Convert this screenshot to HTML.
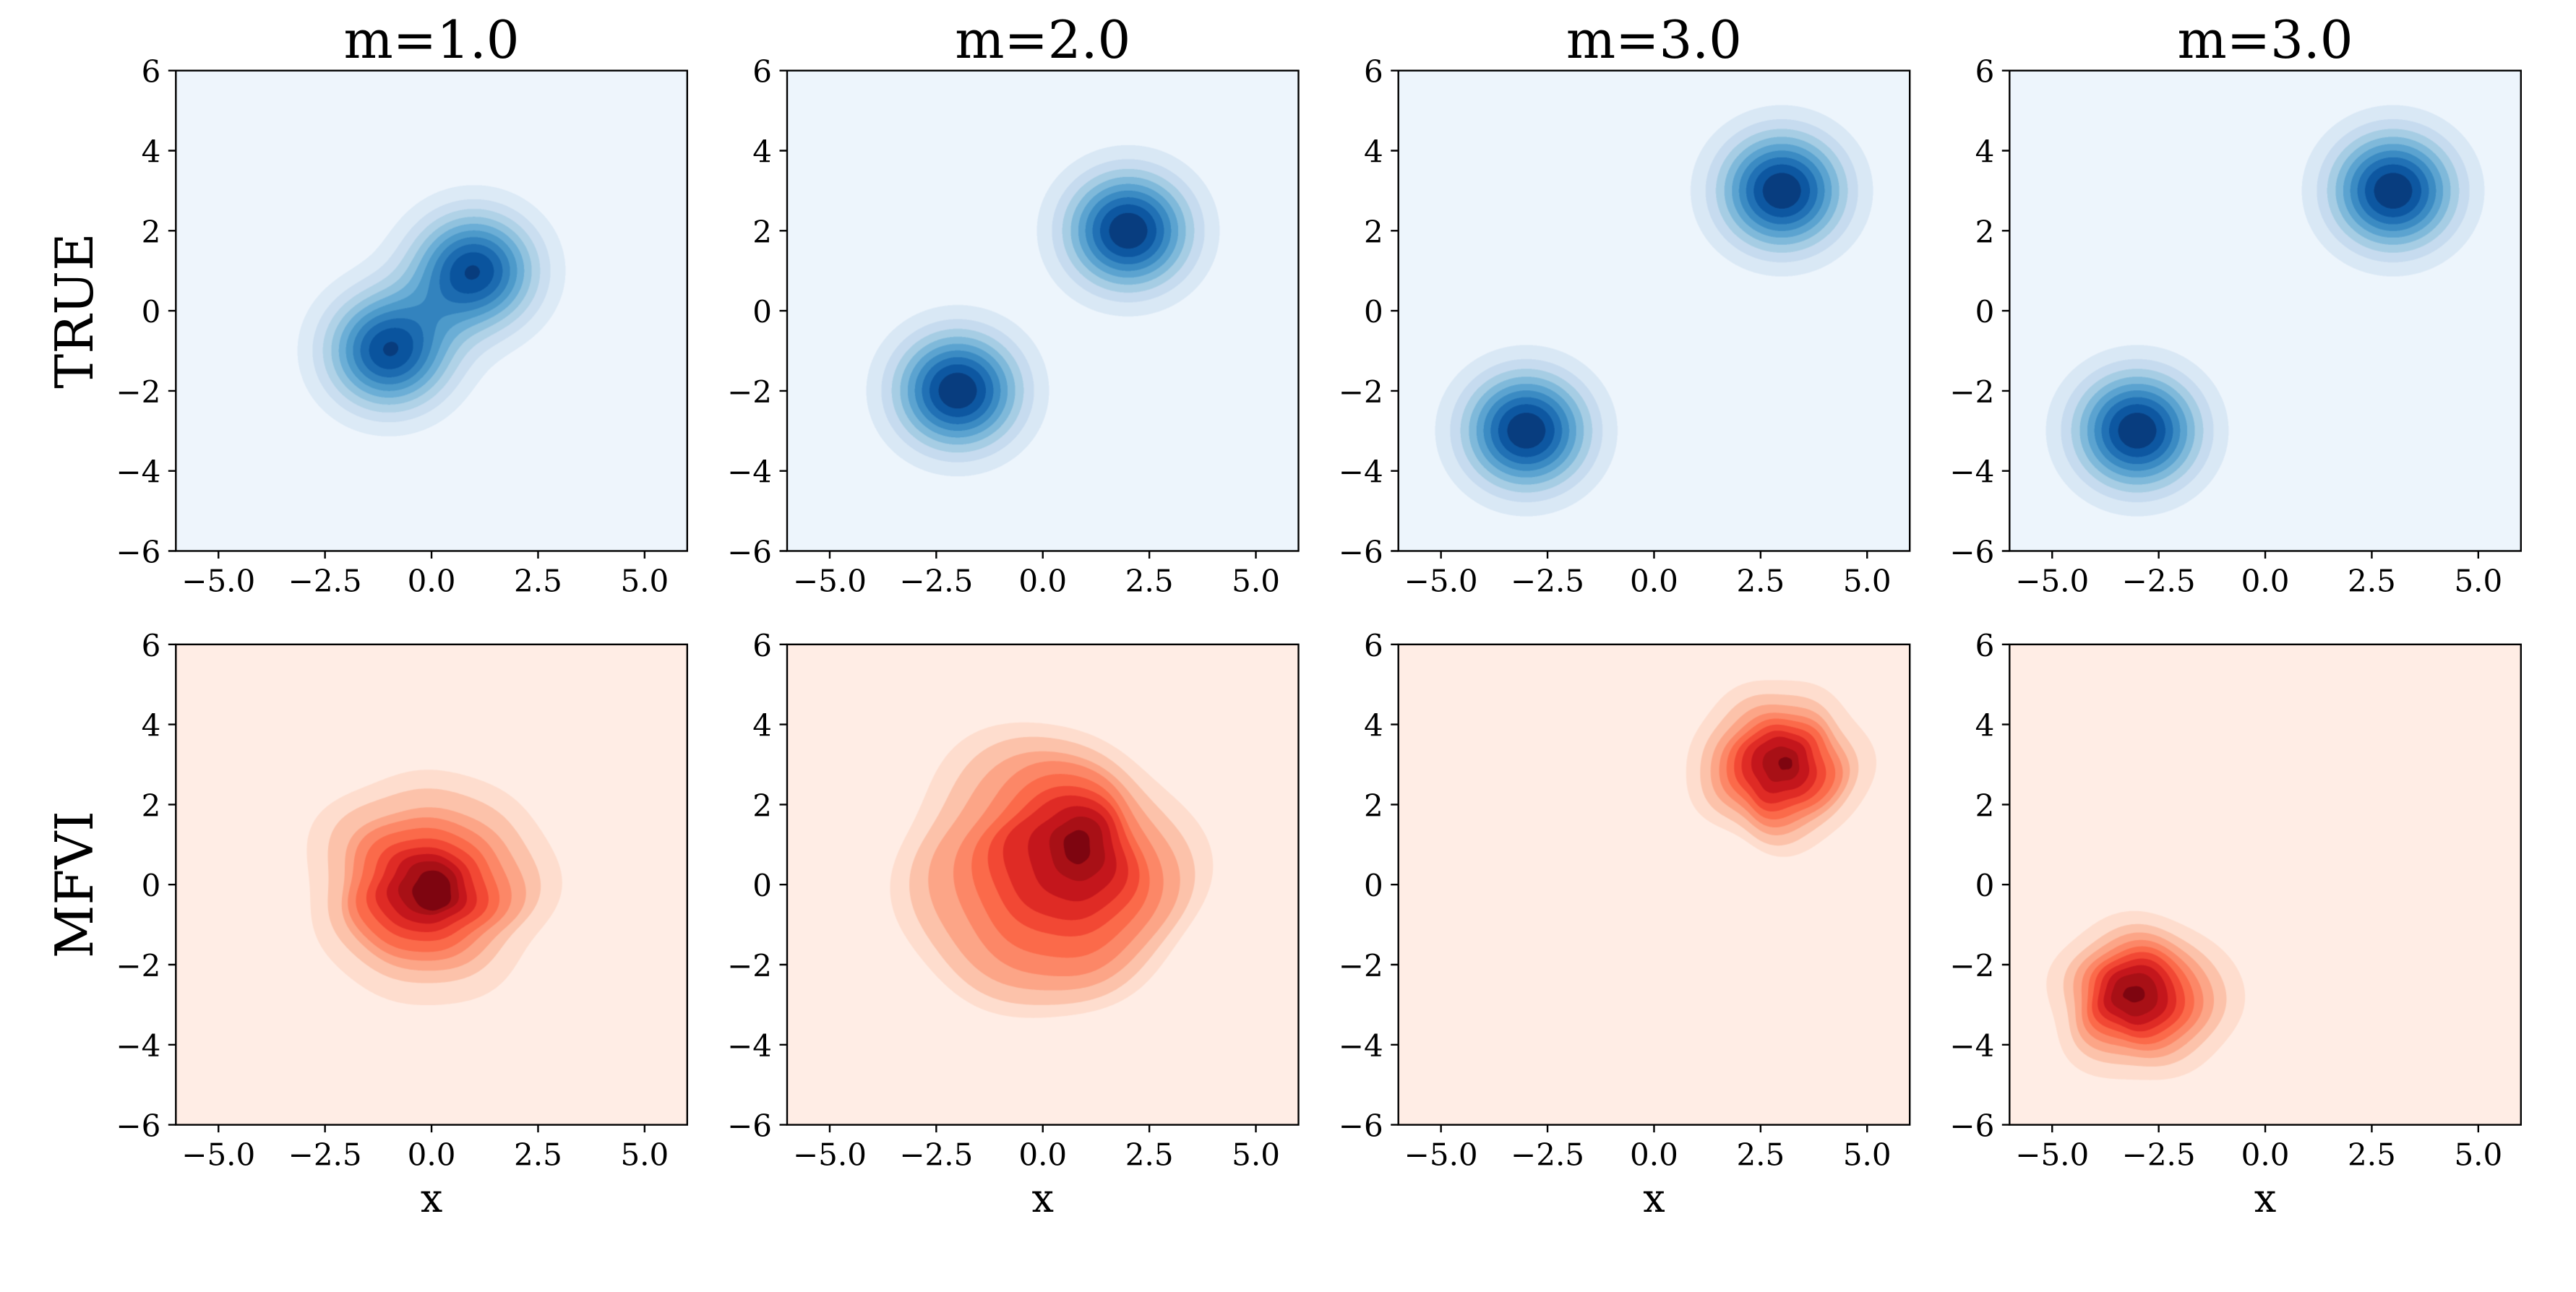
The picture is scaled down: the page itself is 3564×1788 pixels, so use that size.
<!DOCTYPE html>
<html>
<head>
<meta charset="utf-8">
<style>
html,body{margin:0;padding:0;background:#fff;}
#fig{position:relative;width:3564px;height:1788px;overflow:hidden;background:#fff;}
canvas{position:absolute;}
svg{position:absolute;left:0;top:0;}
text{font-family:"DejaVu Serif","Liberation Serif",serif;fill:#000;}
</style>
</head>
<body>
<div id="fig">
<canvas id="t1" width="708" height="665" style="left:243.3px;top:97.7px;width:707.5px;height:664.8px;background:#eef5fc"></canvas>
<canvas id="t2" width="708" height="665" style="left:1089px;top:97.7px;width:707.5px;height:664.8px;background:#edf5fc"></canvas>
<canvas id="t3" width="708" height="665" style="left:1934.7px;top:97.7px;width:707.5px;height:664.8px;background:#edf5fc"></canvas>
<canvas id="t4" width="708" height="665" style="left:2780.3px;top:97.7px;width:707.5px;height:664.8px;background:#edf5fc"></canvas>
<canvas id="m1" width="708" height="665" style="left:243.3px;top:891.8px;width:707.5px;height:664.8px;background:#ffede5"></canvas>
<canvas id="m2" width="708" height="665" style="left:1089px;top:891.8px;width:707.5px;height:664.8px;background:#ffede5"></canvas>
<canvas id="m3" width="708" height="665" style="left:1934.7px;top:891.8px;width:707.5px;height:664.8px;background:#ffede5"></canvas>
<canvas id="m4" width="708" height="665" style="left:2780.3px;top:891.8px;width:707.5px;height:664.8px;background:#ffede5"></canvas>

<svg width="3564" height="1788" viewBox="0 0 3564 1788" xmlns="http://www.w3.org/2000/svg">
<!-- Row 1 -->
<g transform="translate(243.3,97.7)">
<rect x="0" y="0" width="707.5" height="664.8" fill="none" stroke="#000" stroke-width="2.4"/>
<path d="M58.96 664.8v10.5M206.35 664.8v10.5M353.75 664.8v10.5M501.15 664.8v10.5M648.54 664.8v10.5M0 0h-10.5M0 110.8h-10.5M0 221.6h-10.5M0 332.4h-10.5M0 443.2h-10.5M0 554h-10.5M0 664.8h-10.5" stroke="#000" stroke-width="2.4" fill="none"/>
<g font-size="42" text-anchor="end"><text x="-21" y="16">6</text><text x="-21" y="126.8">4</text><text x="-21" y="237.6">2</text><text x="-21" y="348.4">0</text><text x="-21" y="459.2">−2</text><text x="-21" y="570">−4</text><text x="-21" y="680.8">−6</text></g>
<g font-size="42" text-anchor="middle"><text x="58.96" y="720.8">−5.0</text><text x="206.35" y="720.8">−2.5</text><text x="353.75" y="720.8">0.0</text><text x="501.15" y="720.8">2.5</text><text x="648.54" y="720.8">5.0</text></g>
<text x="353.75" y="-17.7" font-size="72" text-anchor="middle">m=1.0</text>
<text transform="translate(-115.3,332.4) rotate(-90)" font-size="72" text-anchor="middle">TRUE</text>
</g>
<g transform="translate(1089,97.7)">
<rect x="0" y="0" width="707.5" height="664.8" fill="none" stroke="#000" stroke-width="2.4"/>
<path d="M58.96 664.8v10.5M206.35 664.8v10.5M353.75 664.8v10.5M501.15 664.8v10.5M648.54 664.8v10.5M0 0h-10.5M0 110.8h-10.5M0 221.6h-10.5M0 332.4h-10.5M0 443.2h-10.5M0 554h-10.5M0 664.8h-10.5" stroke="#000" stroke-width="2.4" fill="none"/>
<g font-size="42" text-anchor="end"><text x="-21" y="16">6</text><text x="-21" y="126.8">4</text><text x="-21" y="237.6">2</text><text x="-21" y="348.4">0</text><text x="-21" y="459.2">−2</text><text x="-21" y="570">−4</text><text x="-21" y="680.8">−6</text></g>
<g font-size="42" text-anchor="middle"><text x="58.96" y="720.8">−5.0</text><text x="206.35" y="720.8">−2.5</text><text x="353.75" y="720.8">0.0</text><text x="501.15" y="720.8">2.5</text><text x="648.54" y="720.8">5.0</text></g>
<text x="353.75" y="-17.7" font-size="72" text-anchor="middle">m=2.0</text>
</g>
<g transform="translate(1934.7,97.7)">
<rect x="0" y="0" width="707.5" height="664.8" fill="none" stroke="#000" stroke-width="2.4"/>
<path d="M58.96 664.8v10.5M206.35 664.8v10.5M353.75 664.8v10.5M501.15 664.8v10.5M648.54 664.8v10.5M0 0h-10.5M0 110.8h-10.5M0 221.6h-10.5M0 332.4h-10.5M0 443.2h-10.5M0 554h-10.5M0 664.8h-10.5" stroke="#000" stroke-width="2.4" fill="none"/>
<g font-size="42" text-anchor="end"><text x="-21" y="16">6</text><text x="-21" y="126.8">4</text><text x="-21" y="237.6">2</text><text x="-21" y="348.4">0</text><text x="-21" y="459.2">−2</text><text x="-21" y="570">−4</text><text x="-21" y="680.8">−6</text></g>
<g font-size="42" text-anchor="middle"><text x="58.96" y="720.8">−5.0</text><text x="206.35" y="720.8">−2.5</text><text x="353.75" y="720.8">0.0</text><text x="501.15" y="720.8">2.5</text><text x="648.54" y="720.8">5.0</text></g>
<text x="353.75" y="-17.7" font-size="72" text-anchor="middle">m=3.0</text>
</g>
<g transform="translate(2780.3,97.7)">
<rect x="0" y="0" width="707.5" height="664.8" fill="none" stroke="#000" stroke-width="2.4"/>
<path d="M58.96 664.8v10.5M206.35 664.8v10.5M353.75 664.8v10.5M501.15 664.8v10.5M648.54 664.8v10.5M0 0h-10.5M0 110.8h-10.5M0 221.6h-10.5M0 332.4h-10.5M0 443.2h-10.5M0 554h-10.5M0 664.8h-10.5" stroke="#000" stroke-width="2.4" fill="none"/>
<g font-size="42" text-anchor="end"><text x="-21" y="16">6</text><text x="-21" y="126.8">4</text><text x="-21" y="237.6">2</text><text x="-21" y="348.4">0</text><text x="-21" y="459.2">−2</text><text x="-21" y="570">−4</text><text x="-21" y="680.8">−6</text></g>
<g font-size="42" text-anchor="middle"><text x="58.96" y="720.8">−5.0</text><text x="206.35" y="720.8">−2.5</text><text x="353.75" y="720.8">0.0</text><text x="501.15" y="720.8">2.5</text><text x="648.54" y="720.8">5.0</text></g>
<text x="353.75" y="-17.7" font-size="72" text-anchor="middle">m=3.0</text>
</g>

<!-- Row 2 -->
<g transform="translate(243.3,891.8)">
<rect x="0" y="0" width="707.5" height="664.8" fill="none" stroke="#000" stroke-width="2.4"/>
<path d="M58.96 664.8v10.5M206.35 664.8v10.5M353.75 664.8v10.5M501.15 664.8v10.5M648.54 664.8v10.5M0 0h-10.5M0 110.8h-10.5M0 221.6h-10.5M0 332.4h-10.5M0 443.2h-10.5M0 554h-10.5M0 664.8h-10.5" stroke="#000" stroke-width="2.4" fill="none"/>
<g font-size="42" text-anchor="end"><text x="-21" y="16">6</text><text x="-21" y="126.8">4</text><text x="-21" y="237.6">2</text><text x="-21" y="348.4">0</text><text x="-21" y="459.2">−2</text><text x="-21" y="570">−4</text><text x="-21" y="680.8">−6</text></g>
<g font-size="42" text-anchor="middle"><text x="58.96" y="720.8">−5.0</text><text x="206.35" y="720.8">−2.5</text><text x="353.75" y="720.8">0.0</text><text x="501.15" y="720.8">2.5</text><text x="648.54" y="720.8">5.0</text></g>
<text x="353.75" y="785.2" font-size="54" text-anchor="middle">x</text>
<text transform="translate(-115.3,332.4) rotate(-90)" font-size="72" text-anchor="middle">MFVI</text>
</g>
<g transform="translate(1089,891.8)">
<rect x="0" y="0" width="707.5" height="664.8" fill="none" stroke="#000" stroke-width="2.4"/>
<path d="M58.96 664.8v10.5M206.35 664.8v10.5M353.75 664.8v10.5M501.15 664.8v10.5M648.54 664.8v10.5M0 0h-10.5M0 110.8h-10.5M0 221.6h-10.5M0 332.4h-10.5M0 443.2h-10.5M0 554h-10.5M0 664.8h-10.5" stroke="#000" stroke-width="2.4" fill="none"/>
<g font-size="42" text-anchor="end"><text x="-21" y="16">6</text><text x="-21" y="126.8">4</text><text x="-21" y="237.6">2</text><text x="-21" y="348.4">0</text><text x="-21" y="459.2">−2</text><text x="-21" y="570">−4</text><text x="-21" y="680.8">−6</text></g>
<g font-size="42" text-anchor="middle"><text x="58.96" y="720.8">−5.0</text><text x="206.35" y="720.8">−2.5</text><text x="353.75" y="720.8">0.0</text><text x="501.15" y="720.8">2.5</text><text x="648.54" y="720.8">5.0</text></g>
<text x="353.75" y="785.2" font-size="54" text-anchor="middle">x</text>
</g>
<g transform="translate(1934.7,891.8)">
<rect x="0" y="0" width="707.5" height="664.8" fill="none" stroke="#000" stroke-width="2.4"/>
<path d="M58.96 664.8v10.5M206.35 664.8v10.5M353.75 664.8v10.5M501.15 664.8v10.5M648.54 664.8v10.5M0 0h-10.5M0 110.8h-10.5M0 221.6h-10.5M0 332.4h-10.5M0 443.2h-10.5M0 554h-10.5M0 664.8h-10.5" stroke="#000" stroke-width="2.4" fill="none"/>
<g font-size="42" text-anchor="end"><text x="-21" y="16">6</text><text x="-21" y="126.8">4</text><text x="-21" y="237.6">2</text><text x="-21" y="348.4">0</text><text x="-21" y="459.2">−2</text><text x="-21" y="570">−4</text><text x="-21" y="680.8">−6</text></g>
<g font-size="42" text-anchor="middle"><text x="58.96" y="720.8">−5.0</text><text x="206.35" y="720.8">−2.5</text><text x="353.75" y="720.8">0.0</text><text x="501.15" y="720.8">2.5</text><text x="648.54" y="720.8">5.0</text></g>
<text x="353.75" y="785.2" font-size="54" text-anchor="middle">x</text>
</g>
<g transform="translate(2780.3,891.8)">
<rect x="0" y="0" width="707.5" height="664.8" fill="none" stroke="#000" stroke-width="2.4"/>
<path d="M58.96 664.8v10.5M206.35 664.8v10.5M353.75 664.8v10.5M501.15 664.8v10.5M648.54 664.8v10.5M0 0h-10.5M0 110.8h-10.5M0 221.6h-10.5M0 332.4h-10.5M0 443.2h-10.5M0 554h-10.5M0 664.8h-10.5" stroke="#000" stroke-width="2.4" fill="none"/>
<g font-size="42" text-anchor="end"><text x="-21" y="16">6</text><text x="-21" y="126.8">4</text><text x="-21" y="237.6">2</text><text x="-21" y="348.4">0</text><text x="-21" y="459.2">−2</text><text x="-21" y="570">−4</text><text x="-21" y="680.8">−6</text></g>
<g font-size="42" text-anchor="middle"><text x="58.96" y="720.8">−5.0</text><text x="206.35" y="720.8">−2.5</text><text x="353.75" y="720.8">0.0</text><text x="501.15" y="720.8">2.5</text><text x="648.54" y="720.8">5.0</text></g>
<text x="353.75" y="785.2" font-size="54" text-anchor="middle">x</text>
</g>
</svg>
</div>
<script>
(function(){
var BL=[[247,251,255],[222,235,247],[198,219,239],[158,202,225],[107,174,214],[66,146,198],[33,113,181],[8,81,156],[8,48,107]];
var RD=[[255,245,240],[254,224,210],[252,187,161],[252,146,114],[251,106,74],[239,59,44],[203,24,29],[165,15,21],[103,0,13]];
function cm(a,t){var s=t*8,i=Math.min(7,Math.floor(s)),f=s-i;return [0,1,2].map(function(j){return a[i][j]+(a[i+1][j]-a[i][j])*f;});}
function rgb(c){return 'rgb('+Math.round(c[0])+','+Math.round(c[1])+','+Math.round(c[2])+')';}
var K=0.5/(2*Math.PI);
function drawTrue(id,m,nb){
  var c=document.getElementById(id);if(!c||!c.getContext)return;
  var ctx=c.getContext('2d'),W=c.width,H=c.height;
  var cols=[];for(var b=0;b<nb;b++)cols.push(cm(BL,(b+0.5)/nb));
  var im=ctx.createImageData(W,H),d=im.data;
  var offs=[0.25,0.75];
  for(var j=0;j<H;j++){
    for(var i=0;i<W;i++){
      var r=0,g=0,bb=0;
      for(var a=0;a<2;a++)for(var e=0;e<2;e++){
        var x=-6+(i+offs[a])/W*12,y=6-(j+offs[e])/H*12;
        var dd=K*(Math.exp(-((x+m)*(x+m)+(y+m)*(y+m))/2)+Math.exp(-((x-m)*(x-m)+(y-m)*(y-m))/2));
        var band=Math.floor(dd/0.008+1e-9);if(band>nb-1)band=nb-1;if(band<0)band=0;
        var cc=cols[band];r+=cc[0];g+=cc[1];bb+=cc[2];
      }
      var o=(j*W+i)*4;d[o]=r/4;d[o+1]=g/4;d[o+2]=bb/4;d[o+3]=255;
    }
  }
  ctx.putImageData(im,0,0);
}
function drawM(id,levels,wob){
  var c=document.getElementById(id);if(!c||!c.getContext)return;
  var ctx=c.getContext('2d'),W=c.width,H=c.height;
  var nb=levels.length+1;
  ctx.fillStyle=rgb(cm(RD,0.5/nb));ctx.fillRect(0,0,W,H);
  var sx=W/12,sy=H/12;
  for(var k=0;k<levels.length;k++){
    var L=levels[k],cx=L[0],cy=L[1],rx=L[2],ry=L[3];
    ctx.beginPath();
    for(var s=0;s<=480;s++){
      var th=s/480*2*Math.PI,w=0;
      for(var q=0;q<wob.length;q++){w+=wob[q][0]*Math.sin(wob[q][1]*th+wob[q][2]+0.35*k);}
      var x=cx+rx*(1+w)*Math.cos(th),y=cy+ry*(1+w)*Math.sin(th);
      var X=(x+6)*sx,Y=(6-y)*sy;
      if(s===0)ctx.moveTo(X,Y);else ctx.lineTo(X,Y);
    }
    ctx.closePath();
    ctx.fillStyle=rgb(cm(RD,(k+1.5)/nb));
    ctx.fill();
  }
}
drawTrue('t1',1,11);
drawTrue('t2',2,10);
drawTrue('t3',3,10);
drawTrue('t4',3,10);
drawM('m1',[[-0.05,-0.03,2.96,2.94],[-0.07,0.0,2.49,2.43],[-0.05,-0.09,2.14,2.04],[-0.12,-0.10,1.89,1.79],[-0.14,-0.13,1.65,1.55],[-0.12,-0.13,1.40,1.28],[-0.13,-0.13,1.16,1.06],[-0.10,-0.11,0.92,0.87],[-0.05,-0.09,0.70,0.67],[0.02,-0.15,0.45,0.50]],
  [[0.03,3,0.5],[0.025,5,1.3],[0.015,7,2.1]]);
drawM('m2',[[0.10,0.30,3.63,3.66],[0.145,0.255,3.195,3.315],[0.22,0.25,2.81,2.95],[0.345,0.31,2.345,2.65],[0.415,0.40,1.995,2.26],[0.50,0.54,1.71,1.85],[0.555,0.645,1.425,1.535],[0.71,0.765,1.02,1.175],[0.82,0.90,0.65,0.80],[0.805,0.945,0.315,0.425]],
  [[0.035,3,2.0],[0.03,4,0.7],[0.02,6,1.1]]);
drawM('m3',[[2.945,2.98,2.175,2.15],[2.915,2.935,1.805,1.835],[2.945,2.92,1.585,1.58],[2.97,2.905,1.41,1.385],[2.975,2.92,1.245,1.22],[2.96,2.935,1.06,1.055],[2.945,2.95,0.875,0.89],[2.97,2.995,0.68,0.695],[2.985,3.01,0.435,0.44],[3.085,3.03,0.165,0.16]],
  [[0.03,4,1.0],[0.025,5,2.5],[0.015,7,0.3]]);
drawM('m4',[[-2.86,-2.83,2.30,2.11],[-2.88,-2.82,1.90,1.77],[-2.91,-2.81,1.65,1.55],[-2.93,-2.80,1.44,1.36],[-2.95,-2.79,1.26,1.20],[-2.98,-2.77,1.09,1.05],[-3.00,-2.76,0.92,0.89],[-3.02,-2.75,0.75,0.73],[-3.05,-2.74,0.545,0.53],[-3.07,-2.73,0.255,0.20]],
  [[0.03,3,1.7],[0.025,5,0.2],[0.015,6,2.9]]);
})();
</script>
</body>
</html>
